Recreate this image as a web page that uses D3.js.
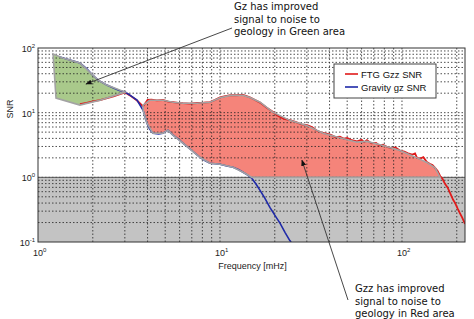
<!DOCTYPE html>
<html>
<head>
<meta charset="utf-8">
<script src="https://cdn.jsdelivr.net/npm/d3@7"></script>
<style>
  body { margin: 0; background: #fff; }
  svg { display: block; }
  .tick-label { font-family: "Liberation Sans", Arial, sans-serif; font-size: 9px; fill: #222; }
  .axis-title { font-family: "Liberation Sans", Arial, sans-serif; font-size: 9px; fill: #222; }
  .note { font-family: "DejaVu Sans", Verdana, sans-serif; font-size: 10px; fill: #111; }
  .legend-text { font-family: "Liberation Sans", Arial, sans-serif; font-size: 9.5px; fill: #111; }
</style>
</head>
<body>
<script>
// SNR vs frequency, log-log

// FTG Gzz SNR (red)
var redFreq = [1.70, 1.85, 2.0, 2.19, 2.6, 3.01, 3.2, 3.5, 3.78,
  4.0, 4.2, 4.5, 4.86, 5.2, 5.52, 5.9, 6.26, 6.8, 7.48, 8.1, 8.81, 9.4, 10.0,
  10.7, 11.4, 12.3, 13.4, 14.0, 14.6, 15.5, 16.6, 18.0, 19.5, 21, 22.5, 24.2,
  26, 28, 30.1, 32, 34, 36.8, 39, 41, 43, 45.6, 48, 50, 53, 56.6, 60, 62, 64.2,
  68, 72, 75, 78.6, 83, 88, 92, 97.5, 103, 108, 114, 118, 121, 126, 131, 137,
  142, 147, 152, 157, 162, 167, 172, 178, 185, 191, 196, 202, 208, 214, 222];
var redSnr = [13.5, 14.2, 15.0, 15.6, 17.8, 20.5, 18.5, 15.4, 12.5,
  15.8, 15.9, 15.5, 15.7, 14.8, 14.6, 14.2, 14.0, 13.8, 14.1, 14.3, 14.6, 15.8, 17.2,
  18.0, 18.7, 18.6, 18.8, 18.0, 17.3, 15.8, 14.3, 12.0, 10.3, 8.8, 8.0, 7.7,
  7.2, 6.6, 6.4, 6.0, 5.3, 4.85, 4.7, 4.5, 4.2, 4.25, 3.95, 4.05, 3.75, 3.6, 3.8, 3.5, 3.75,
  3.35, 3.4, 3.1, 3.2, 2.95, 2.8, 2.9, 2.6, 2.5, 2.35, 2.25, 2.35, 2.0, 1.95, 2.05, 1.72,
  1.62, 1.55, 1.4, 1.25, 1.05, 0.95, 0.80, 0.70, 0.55, 0.45, 0.40, 0.33, 0.28, 0.24, 0.19];

// Gravity gz SNR (blue)
var blueFreq = [1.32, 1.45, 1.60, 1.70, 1.85, 2.0, 2.14, 2.39, 2.6, 2.8, 3.01, 3.2,
  3.5, 3.78, 3.97, 4.1, 4.28, 4.6, 4.86, 5.18, 5.52, 5.9, 6.26, 7.0, 7.76, 8.3,
  8.81, 9.4, 10.0, 10.9, 11.8, 12.6, 13.4, 14.2, 15.0, 15.8, 16.6, 17.6, 18.8,
  20.0, 21.4, 22.8, 24.2, 24.6];
var blueSnr = [72.5, 67, 62, 58.5, 48, 38, 31.9, 26.7, 24, 22, 20.8, 18.7,
  15.6, 10.9, 6.88, 5.6, 4.81, 4.7, 4.81, 5.36, 4.48, 3.9, 3.37, 2.6, 2.04, 1.8,
  1.65, 1.62, 1.59, 1.5, 1.43, 1.32, 1.20, 1.08, 0.96, 0.78, 0.63, 0.48, 0.343,
  0.26, 0.194, 0.14, 0.105, 0.1];

// shaded areas: [freq, snr] vertices
var greenArea = [[1.21, 80.7], [1.37, 70], [1.70, 58.5], [2.14, 31.9], [2.39, 26.7],
  [3.01, 20.8], [2.19, 15.6], [1.70, 13.1], [1.256, 16.8]];
var redArea = [[3.78, 13.1], [4.12, 15.6], [4.86, 15.6], [5.52, 14.5], [6.26, 14.0],
  [7.48, 14.0], [8.81, 14.5], [10.0, 17.0], [11.4, 18.5], [13.4, 18.5], [14.6, 17.2],
  [16.6, 14.5], [19.5, 10.2], [24.2, 7.6], [30.1, 6.3], [36.8, 4.8], [45.6, 4.1],
  [56.6, 3.5], [64.2, 3.6], [78.6, 3.1], [97.5, 2.6], [121, 2.0], [137, 1.7],
  [152, 1.4], [162, 1.0], [15.0, 1.0], [13.4, 1.2], [11.8, 1.43], [10.0, 1.59],
  [8.81, 1.65], [7.76, 2.04], [6.26, 3.37], [5.52, 4.48], [5.18, 5.36], [4.86, 4.81],
  [4.28, 4.81], [3.97, 6.88], [3.78, 10.9]];

var noiseFloor = 1; // below this SNR the band is grey
var xDecades = [0, 1, 2];
var yDecades = [-1, 0, 1, 2];
var legendNames = ["FTG Gzz SNR", "Gravity gz SNR"];
var legendColors = ["#e01b1b", "#1f2aa8"];

var greenNote = ["Gz has improved", "signal to noise to", "geology in Green area"];
var redNote = ["Gzz has improved", "signal to noise to", "geology in Red area"];
var greenTip = [1.835, 27.7];
var redTip = [28.2, 1.84];

var W = 474, H = 319;
var m = {left: 38, top: 48, right: 9, bottom: 77};

var svg = d3.select("body").append("svg")
  .attr("width", W)
  .attr("height", H);

var x = d3.scaleLog().domain([1, 222]).range([m.left, W - m.right]);
var y = d3.scaleLog().domain([0.1, 100]).range([H - m.bottom, m.top]);

var defs = svg.append("defs");
defs.append("clipPath").attr("id", "plotclip")
  .append("rect")
  .attr("x", m.left).attr("y", m.top)
  .attr("width", W - m.right - m.left).attr("height", H - m.bottom - m.top);
defs.append("marker")
  .attr("id", "arrow")
  .attr("viewBox", "0 0 10 10")
  .attr("refX", 9).attr("refY", 5)
  .attr("markerWidth", 7).attr("markerHeight", 7)
  .attr("orient", "auto")
  .append("path")
  .attr("d", "M0,1 L10,5 L0,9 z")
  .attr("fill", "#111");

var plot = svg.append("g").attr("clip-path", "url(#plotclip)");

// grey noise band
plot.append("rect")
  .attr("x", x(1)).attr("y", y(noiseFloor))
  .attr("width", x(222) - x(1))
  .attr("height", y(0.1) - y(noiseFloor))
  .attr("fill", "#c3c3c3");

// shaded regions
var poly = d3.line().x(function(d){ return x(d[0]); }).y(function(d){ return y(d[1]); })
  .curve(d3.curveLinearClosed);

plot.append("path")
  .attr("d", poly(greenArea))
  .attr("fill", "#a9c98b");
plot.append("path")
  .attr("d", poly(redArea))
  .attr("fill", "#f5847a");

// dotted grid
var gx = x.ticks().filter(function(v){ return v > 1 && v < 222; });
var gy = y.ticks().filter(function(v){ return v > 0.1 && v < 100; });

plot.selectAll(".gridx").data(gx).enter().append("line")
  .attr("class", "gridx")
  .attr("x1", function(d){ return x(d); }).attr("x2", function(d){ return x(d); })
  .attr("y1", m.top).attr("y2", H - m.bottom)
  .attr("stroke", "#222").attr("stroke-width", 0.8)
  .attr("stroke-dasharray", "1.5,2");

plot.selectAll(".gridy").data(gy).enter().append("line")
  .attr("class", "gridy")
  .attr("x1", m.left).attr("x2", W - m.right)
  .attr("y1", function(d){ return y(d); }).attr("y2", function(d){ return y(d); })
  .attr("stroke", "#222").attr("stroke-width", 0.8)
  .attr("stroke-dasharray", "1.5,2");

// top edge of the grey band
plot.append("line")
  .attr("x1", m.left).attr("x2", W - m.right)
  .attr("y1", y(noiseFloor)).attr("y2", y(noiseFloor))
  .attr("stroke", "#555").attr("stroke-width", 1);

// series lines
var line = d3.line().x(function(d){ return x(d[0]); }).y(function(d){ return y(d[1]); });

plot.append("path")
  .attr("d", line(redFreq.map(function(f, i){ return [f, redSnr[i]]; })))
  .attr("fill", "none").attr("stroke", legendColors[0]).attr("stroke-width", 1.8);

plot.append("path")
  .attr("d", line(blueFreq.map(function(f, i){ return [f, blueSnr[i]]; })))
  .attr("fill", "none").attr("stroke", legendColors[1]).attr("stroke-width", 1.6);

// grey outlines of the shaded regions
plot.append("path")
  .attr("d", poly(greenArea))
  .attr("fill", "none").attr("stroke", "#a3a3a3").attr("stroke-width", 1.6);
plot.append("path")
  .attr("d", poly(redArea))
  .attr("fill", "none").attr("stroke", "#a3a3a3").attr("stroke-width", 1.6);

// axes box
svg.append("rect")
  .attr("x", m.left).attr("y", m.top)
  .attr("width", W - m.right - m.left).attr("height", H - m.bottom - m.top)
  .attr("fill", "none").attr("stroke", "#333").attr("stroke-width", 1);

// tick labels 10^n
var xl = svg.selectAll(".xlab").data(xDecades).enter().append("text")
  .attr("class", "tick-label")
  .attr("x", function(d){ return x(Math.pow(10, d)) - 5; })
  .attr("y", H - m.bottom + 14);
xl.append("tspan").text("10");
xl.append("tspan").attr("dy", -4).attr("font-size", "6px").text(function(d){ return d; });

var yl = svg.selectAll(".ylab").data(yDecades).enter().append("text")
  .attr("class", "tick-label")
  .attr("text-anchor", "end")
  .attr("x", m.left - 3)
  .attr("y", function(d){ return y(Math.pow(10, d)) + 4; });
yl.append("tspan").text("10");
yl.append("tspan").attr("dy", -4).attr("font-size", "6px").text(function(d){ return d; });

// axis titles
svg.append("text")
  .attr("class", "axis-title")
  .attr("text-anchor", "middle")
  .attr("x", (m.left + W - m.right) / 2 + 1)
  .attr("y", H - m.bottom + 27)
  .text("Frequency [mHz]");

svg.append("text")
  .attr("class", "axis-title")
  .attr("text-anchor", "middle")
  .attr("transform", "translate(13," + 109 + ") rotate(-90)")
  .text("SNR");

// legend
var lg = svg.append("g").attr("transform", "translate(334,64)");
lg.append("rect")
  .attr("width", 102).attr("height", 34)
  .attr("fill", "#fff").attr("stroke", "#444").attr("stroke-width", 1);
legendNames.forEach(function(name, i){
  lg.append("line")
    .attr("x1", 11).attr("x2", 24)
    .attr("y1", 10 + i * 13).attr("y2", 10 + i * 13)
    .attr("stroke", legendColors[i]).attr("stroke-width", 1.6);
  lg.append("text")
    .attr("class", "legend-text")
    .attr("x", 27).attr("y", 13.5 + i * 13)
    .text(name);
});

// annotations
function note(lines, tx, ty, from, tip){
  svg.append("line")
    .attr("x1", from[0]).attr("y1", from[1])
    .attr("x2", x(tip[0])).attr("y2", y(tip[1]))
    .attr("stroke", "#333").attr("stroke-width", 0.9)
    .attr("marker-end", "url(#arrow)");
  var t = svg.append("text").attr("class", "note");
  lines.forEach(function(s, i){
    t.append("tspan").attr("x", tx).attr("y", ty + i * 12.5).text(s);
  });
}
note(greenNote, 234, 10, [232, 28], greenTip);
note(redNote, 355, 292, [348, 300], redTip);
</script>
</body>
</html>
